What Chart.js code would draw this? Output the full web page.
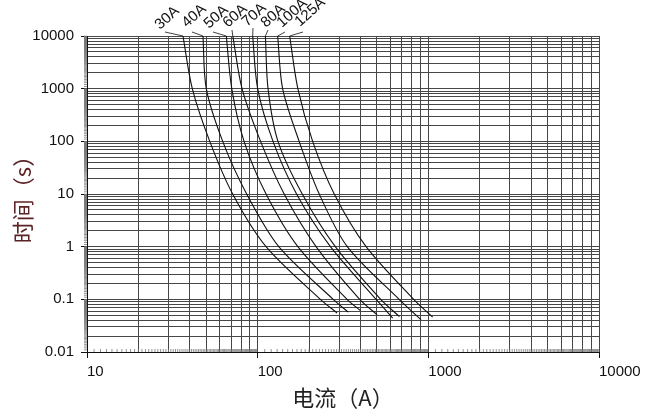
<!DOCTYPE html>
<html>
<head>
<meta charset="utf-8">
<script src="https://cdn.jsdelivr.net/npm/chart.js@4.4.1/dist/chart.umd.min.js"></script>
<style>
  html, body { margin: 0; padding: 0; background: #fff; }
  #wrap { width: 650px; height: 414px; }
</style>
</head>
<body>
<div id="wrap"><canvas id="chart"></canvas></div>
<script>
// time points (s) shared by every curve
const times = [10000, 1000, 100, 10, 1, 0.1];
const ratings = ['30A', '40A', '50A', '60A', '70A', '80A', '100A', '125A'];

// current (A) of each curve at the times above
const amps30 = [36.5, 41.4, 52.4, 71.4, 112, 233];
const amps40 = [47.8, 50, 62.4, 86.2, 133, 277];
const amps50 = [65.5, 70.5, 83.2, 112, 172, 334];
const amps60 = [71.5, 81, 104, 143, 220, 396];
const amps70 = [93.5, 100, 123, 169, 267, 494];
const amps80 = [111, 115, 131.5, 182.5, 285, 526];
const amps100 = [131, 140, 175, 229.5, 335, 674];
const amps125 = [154, 172, 210, 281, 432, 820];

// where each curve stops at the bottom
const endAmps = [292, 340, 400, 501, 618, 677, 906, 1060];
const endTimes = [0.055, 0.057, 0.061, 0.051, 0.044, 0.047, 0.041, 0.046];

const xTickLabels = ['10', '100', '1000', '10000'];
const yTickLabels = ['0.01', '0.1', '1', '10', '100', '1000', '10000'];

const allAmps = [amps30, amps40, amps50, amps60, amps70, amps80, amps100, amps125];

const datasets = allAmps.map((amps, i) => ({
  label: ratings[i],
  data: times.map((t, j) => ({ x: amps[j], y: t })).concat([{ x: endAmps[i], y: endTimes[i] }]),
  borderColor: '#111',
  borderWidth: 1.1,
  pointRadius: 0,
  tension: 0.3,
  fill: false
}));

const isDecade = v => Math.abs(Math.log10(v) - Math.round(Math.log10(v))) < 1e-6;

// log grid: 1..9 in every decade
function logGrid(min, max) {
  const out = [];
  for (let d = min; d < max * 0.999; d *= 10) {
    for (let k = 1; k <= 9; k++) out.push(Number((k * d).toPrecision(6)));
  }
  out.push(max);
  return out;
}

function labelFor(list) {
  return v => {
    if (!isDecade(v)) return '';
    const s = list.find(l => Math.abs(Number(l) - v) / v < 1e-6);
    return s || '';
  };
}

// dense small ticks along both axes
const minorTicks = {
  id: 'minorTicks',
  afterDraw(chart) {
    const { ctx, chartArea: a, scales: { x, y } } = chart;
    ctx.save();
    ctx.strokeStyle = '#777';
    ctx.lineWidth = 0.8;
    ctx.beginPath();
    for (let d = 10; d < 10000; d *= 10) {
      for (let k = 11; k < 100; k++) {
        const px = x.getPixelForValue(k * d / 10);
        ctx.moveTo(px, a.bottom);
        ctx.lineTo(px, a.bottom - 3);
      }
    }
    for (let d = 0.01; d < 10000; d *= 10) {
      for (let k = 11; k < 100; k++) {
        const py = y.getPixelForValue(k * d / 10);
        ctx.moveTo(a.left - 3, py);
        ctx.lineTo(a.left, py);
      }
    }
    ctx.stroke();
    ctx.restore();
  }
};

// rotated rating labels with leader lines to the top of each curve
const textPos = [[160, 30], [187, 28], [209, 29], [228, 28], [247, 27], [266, 28], [282, 28], [300, 27]];
const leadFrom = [[165, 32], [192, 32], [213, 32], [232, 30], [253, 28], [268, 30], [285, 32], [303, 32]];

const ratingLabels = {
  id: 'ratingLabels',
  afterDraw(chart) {
    const { ctx, chartArea: a, scales: { x } } = chart;
    ctx.save();
    ctx.strokeStyle = '#111';
    ctx.lineWidth = 0.8;
    ctx.beginPath();
    allAmps.forEach((amps, i) => {
      ctx.moveTo(leadFrom[i][0], leadFrom[i][1]);
      ctx.lineTo(x.getPixelForValue(amps[0]), a.top);
    });
    ctx.stroke();
    ctx.fillStyle = '#111';
    ctx.font = '15px "Liberation Sans", Arial, sans-serif';
    ctx.textBaseline = 'alphabetic';
    ctx.textAlign = 'left';
    ratings.forEach((r, i) => {
      ctx.save();
      ctx.translate(textPos[i][0], textPos[i][1]);
      ctx.rotate(-42 * Math.PI / 180);
      ctx.fillText(r, 0, 0);
      ctx.restore();
    });
    ctx.restore();
  }
};

const gridColor = '#474747';
const tickFont = { family: '"Liberation Sans", Arial, sans-serif', size: 15 };

new Chart(document.getElementById('chart'), {
  type: 'line',
  data: { datasets },
  options: {
    responsive: true,
    maintainAspectRatio: false,
    devicePixelRatio: 1,
    animation: false,
    layout: { padding: { left: 0, right: 51, top: 36, bottom: 0 } },
    plugins: { legend: { display: false }, tooltip: { enabled: false } },
    scales: {
      x: {
        type: 'logarithmic',
        min: 10,
        max: 10000,
        afterBuildTicks: s => { s.ticks = logGrid(10, 10000).map(v => ({ value: v })); },
        afterFit: s => { s.height = 62; },
        grid: {
          color: gridColor,
          lineWidth: 1,
          tickLength: 6,
          tickColor: c => (c.tick && isDecade(c.tick.value)) ? '#111' : 'rgba(0,0,0,0)'
        },
        border: { display: true, color: '#111', width: 1 },
        ticks: {
          autoSkip: false,
          maxRotation: 0,
          align: 'start',
          padding: 5,
          color: '#111',
          font: tickFont,
          callback: labelFor(xTickLabels)
        },
        title: {
          display: true,
          text: '电流（A）',
          color: '#222',
          font: { family: '"Noto Sans CJK SC", sans-serif', size: 22 },
          padding: { top: 0, bottom: 3 }
        }
      },
      y: {
        type: 'logarithmic',
        min: 0.01,
        max: 10000,
        afterBuildTicks: s => { s.ticks = logGrid(0.01, 10000).map(v => ({ value: v })); },
        afterFit: s => { s.width = 87; },
        grid: {
          color: gridColor,
          lineWidth: 1,
          tickLength: 6,
          tickColor: c => (c.tick && isDecade(c.tick.value)) ? '#111' : 'rgba(0,0,0,0)'
        },
        border: { display: true, color: '#111', width: 1 },
        ticks: {
          autoSkip: false,
          padding: 7,
          color: '#111',
          font: tickFont,
          callback: labelFor(yTickLabels)
        },
        title: {
          display: true,
          text: '时间（s）',
          color: '#5b2323',
          font: { family: '"Noto Sans CJK SC", sans-serif', size: 22 },
          padding: { top: 9, bottom: 0 }
        }
      }
    }
  },
  plugins: [minorTicks, ratingLabels]
});
</script>
</body>
</html>
